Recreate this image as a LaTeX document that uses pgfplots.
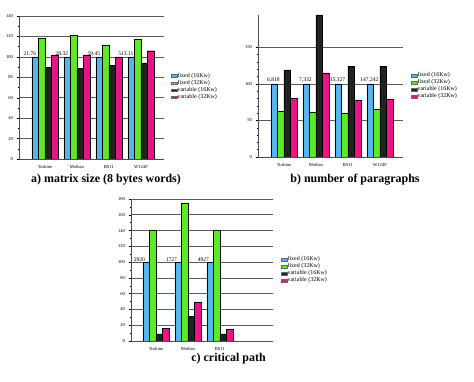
\documentclass[border=0pt]{standalone}
\usepackage{pgfplots}
\pgfplotsset{compat=1.18}
\usepackage{fontspec}
\setmainfont{Liberation Serif}
\definecolor{cblue}{RGB}{88,180,238}
\definecolor{cgreen}{RGB}{90,236,40}
\definecolor{cdark}{RGB}{34,34,34}
\definecolor{cmag}{RGB}{236,18,136}
\pgfplotsset{
  mybars/.style={
    scale only axis,
    ybar=0pt, bar width=6.5bp,
    axis x line*=bottom, axis y line*=left,
    ymin=0,
    xtick={0,1,2,3},
    xtick style={draw=none},
    ymajorgrids, grid style={black!65, line width=0.6pt},
    tick align=outside, major tick length=2.5bp, minor tick length=1.5bp,
    tick style={black, line width=0.4pt},
    axis line style={black!70, line width=0.6pt},
    tick label style={font=\fontsize{4.6}{5}\selectfont},
    /pgf/number format/assume math mode=true,
    legend style={draw=none, fill=none, font=\fontsize{6}{6.6}\selectfont,
      anchor=west, row sep=0.2bp, inner sep=1pt,
      nodes={inner sep=0.6pt}},
    legend cell align=left,
    legend image code/.code={\draw[#1,draw=black!60,line width=0.3pt] (0bp,-1.3bp) rectangle (5.5bp,1.3bp);},
    every axis title shift=0pt,
    title style={font=\fontsize{12}{14}\selectfont\bfseries, anchor=center},
    every axis plot/.append style={draw=black, line width=0.3pt},
  },
  vlabels/.style={nodes near coords, point meta=explicit symbolic,
    every node near coord/.append style={font=\fontsize{5.6}{6}\selectfont, black, anchor=south, inner sep=0.8pt, xshift=#1}},
}
\begin{document}
\begin{tikzpicture}
\path[use as bounding box] (0,0) rectangle (474bp,382bp);
% ---------- a ----------
\begin{axis}[mybars, at={(19bp,223bp)}, anchor=south west, width=145bp, height=143bp,
  xmin=-0.81, xmax=3.72, ymax=140, ytick={0,20,...,140}, minor y tick num=1,
  xticklabels={Turbine,Methan,BS11,W124F},
  legend style={at={(1.041,0.507)}},
  title={a) matrix size (8 bytes words)}, title style={at={(0.6,-0.147)}}]
\addplot[fill=cblue, vlabels=-5.3bp] table[meta=l] {
x y l
0 100 21.76
1 100 28.32
2 100 59.45
3 100 513.11
};
\addplot[fill=cgreen] coordinates {(0,118) (1,121) (2,111) (3,117)};
\addplot[fill=cdark] coordinates {(0,90) (1,89) (2,92) (3,94)};
\addplot[fill=cmag] coordinates {(0,102) (1,102) (2,100) (3,106)};
\legend{fixed (16Kw),fixed (32Kw),variable (16Kw),variable (32Kw)}
\end{axis}
% ---------- b ----------
\begin{axis}[mybars, at={(258bp,225bp)}, anchor=south west, width=145bp, height=142bp,
  xmin=-0.8125, xmax=3.72, ymax=194, ytick={0,50,100,150}, minor y tick num=4,
  xticklabels={Turbine,Methan,BS11,W124F},
  legend style={at={(1.048,0.5)}},
  title={b) number of paragraphs}, title style={at={(0.669,-0.162)}}]
\addplot[fill=cblue, vlabels=-0.8bp] table[meta=l] {
x y l
0 100 {6,818}
1 100 {7,332}
2 100 {15,327}
3 100 {147,242}
};
\addplot[fill=cgreen] coordinates {(0,63) (1,61) (2,60) (3,65)};
\addplot[fill=cdark] coordinates {(0,119) (1,194) (2,124) (3,124)};
\addplot[fill=cmag] coordinates {(0,80) (1,115) (2,78) (3,79)};
\legend{fixed (16Kw),fixed (32Kw),variable (16Kw),variable (32Kw)}
\end{axis}
% ---------- c ----------
\begin{axis}[mybars, at={(131bp,41bp)}, anchor=south west, width=142bp, height=142bp,
  xmin=-0.78, xmax=3.66, ymax=180, ytick={0,20,...,180}, minor y tick num=1,
  xtick={0,1,2}, xticklabels={Turbine,Methan,BS11},
  legend style={at={(1.049,0.5)}},
  title={c) critical path}, title style={at={(0.687,-0.127)}}]
\addplot[fill=cblue, vlabels=-6.8bp] table[meta=l] {
x y l
0 100 2920
1 100 1727
2 100 4927
};
\addplot[fill=cgreen] coordinates {(0,141) (1,175) (2,140)};
\addplot[fill=cdark] coordinates {(0,9) (1,31) (2,9)};
\addplot[fill=cmag] coordinates {(0,16) (1,49) (2,15)};
\legend{fixed (16Kw),fixed (32Kw),variable (16Kw),variable (32Kw)}
\end{axis}
\end{tikzpicture}
\end{document}
